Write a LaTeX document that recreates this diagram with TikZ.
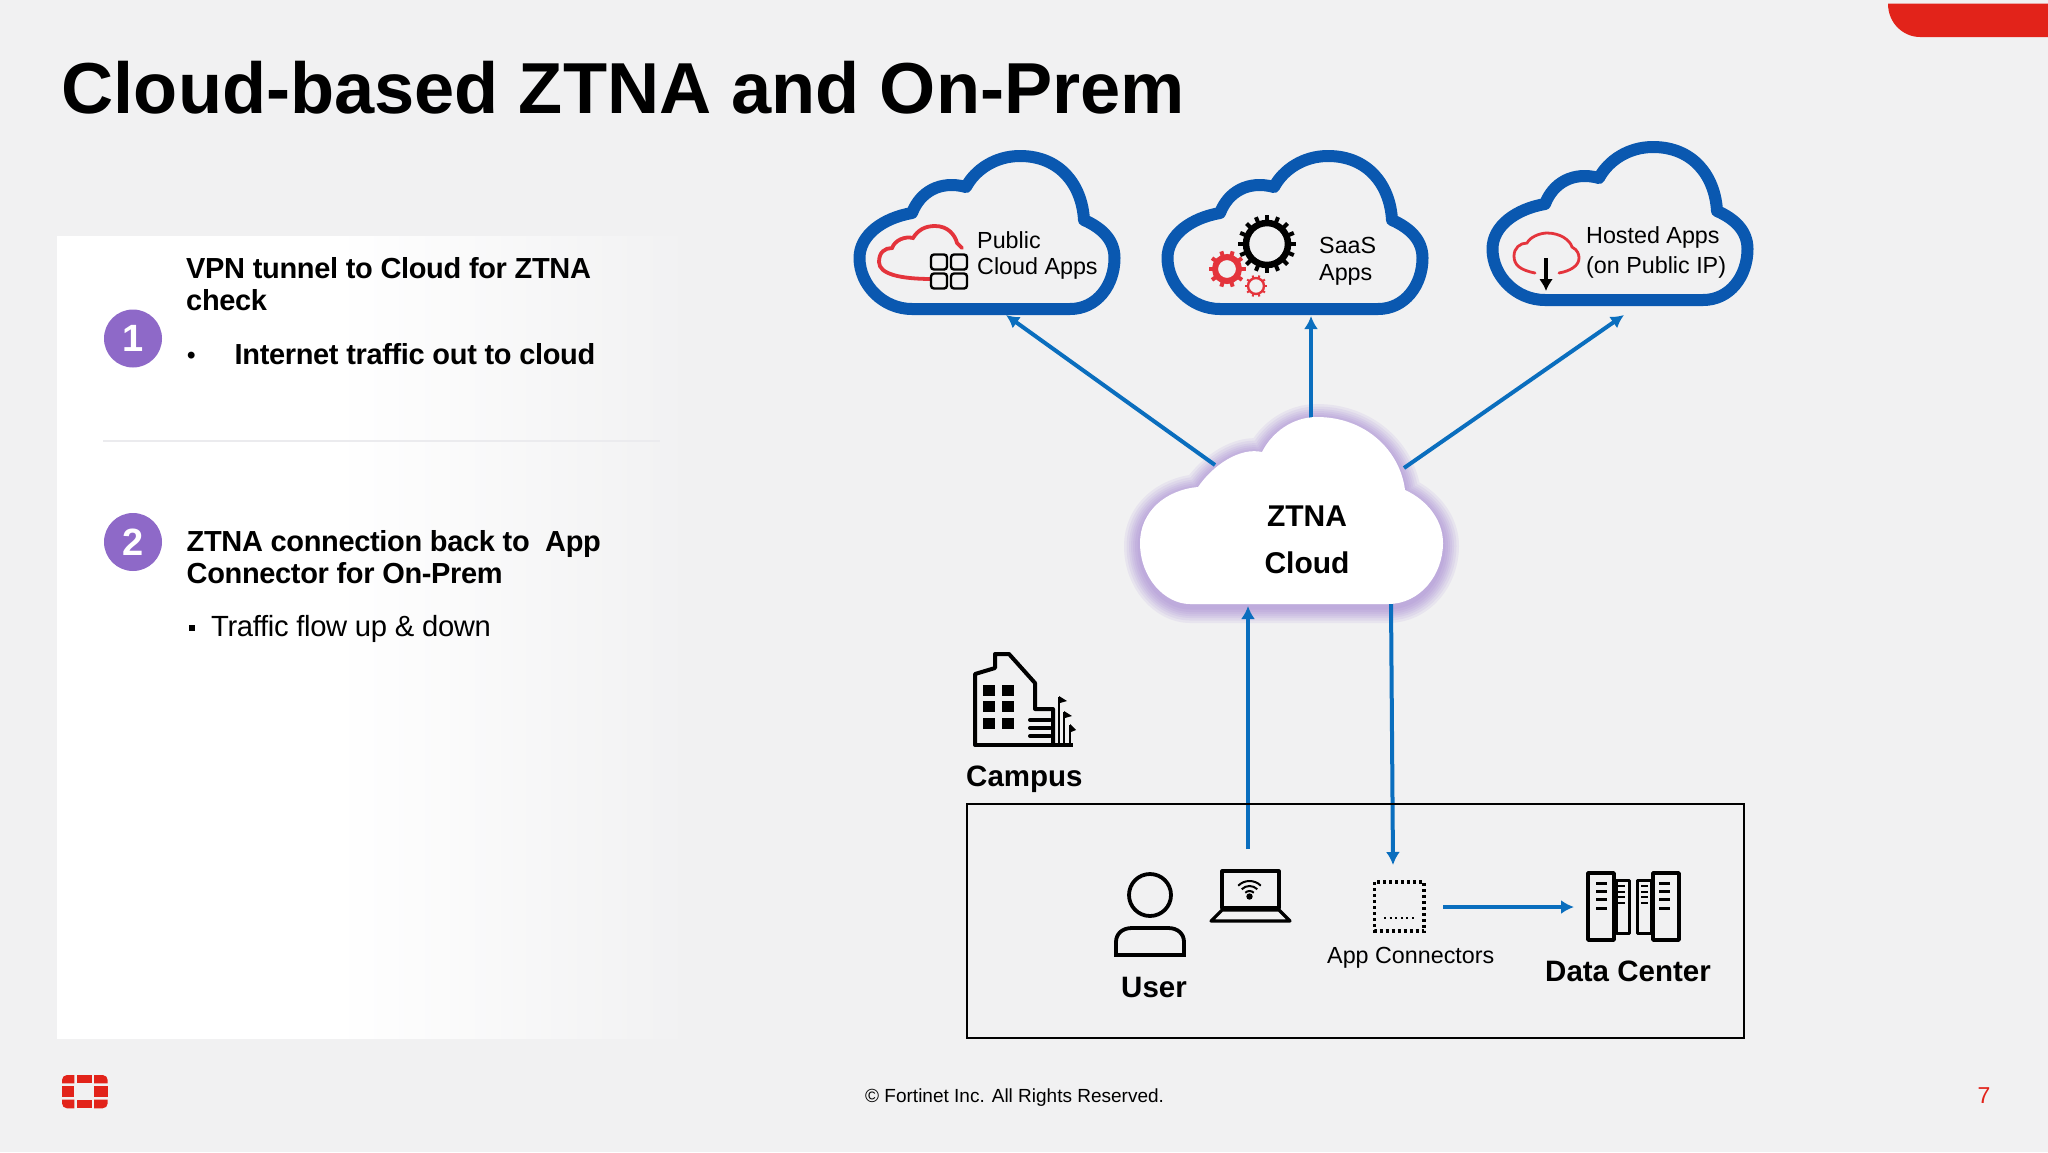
\documentclass[tikz,border=0pt]{standalone}
\usepackage{fontspec}
\setmainfont{Liberation Sans}
\newfontfamily\tightsans[LetterSpace=-1.2]{Liberation Sans}
\usetikzlibrary{arrows.meta}
\definecolor{pagebg}{RGB}{241,241,242}
\definecolor{fortired}{RGB}{226,35,26}
\definecolor{iconred}{RGB}{228,52,60}
\definecolor{rimblue}{RGB}{10,88,176}
\definecolor{flowblue}{RGB}{10,110,190}
\definecolor{badge}{RGB}{142,105,200}
\definecolor{halo}{RGB}{150,115,205}
\definecolor{rulegrey}{RGB}{235,235,238}
\pgfdeclarehorizontalshading{panelfade}{100bp}{color(0bp)=(white); color(25bp)=(white); color(47bp)=(white); color(75bp)=(pagebg); color(100bp)=(pagebg)}
\newcommand\fs[1]{\fontsize{#1}{#1}\selectfont}
\newcommand\ztnaoutline{(1190,604) -- (1388,604) .. controls (1420,604) and (1443,575) .. (1443,543) .. controls (1443,520) and (1427,500) .. (1405,490) .. controls (1400,450) and (1365,417) .. (1317,417) .. controls (1293,417) and (1272,432) .. (1262,452) .. controls (1240,447) and (1213,465) .. (1198,487) .. controls (1165,490) and (1140,512) .. (1140,543) .. controls (1140,578) and (1165,604) .. (1190,604) -- cycle}
\newcommand\appcloud[1]{\draw[cloudrim,shift={#1}] (912,309) -- (1070,309) .. controls (1097,309) and (1114.5,285) .. (1114.5,258) .. controls (1114.5,240) and (1102,228) .. (1084,220) .. controls (1082,185) and (1060,156) .. (1020,156) .. controls (995,156) and (975,170) .. (966,187) .. controls (940,180) and (920,192) .. (912,213) .. controls (883,218) and (859.5,235) .. (859.5,258) .. controls (859.5,285) and (883,309) .. (912,309) -- cycle;}
% centre, ring radius, ring width, tooth outer radius, teeth, colour, tooth width
\newcommand\gearicon[7]{%
  \draw[#6,line width=#3] #1 circle[radius=#2];
  \foreach \a in {1,...,#5}{\draw[#6,line width=#7] #1 ++({360/#5*\a}:#2) -- ++({360/#5*\a}:{#4-#2});}}
\tikzset{
  cloudrim/.style={draw=rimblue,line width=12pt,line join=round},
  flow/.style={draw=flowblue,line width=4pt,-{Latex[length=13pt,width=14pt]}},
  txt/.style={anchor=base west,inner sep=0pt,text=black},
  body/.style={txt,font=\tightsans\fontsize{29}{32}\selectfont\bfseries,align=left},
  bodyreg/.style={txt,font=\tightsans\fs{29.2}},
  mid/.style={txt,font=\fs{23.3}},
  strong/.style={txt,font=\fs{29.5}\bfseries},
  icon/.style={draw=black,line width=4pt,line join=round},
  badgedot/.style={circle,fill=badge,minimum size=58pt,inner sep=0pt,text=white,font=\fs{38}\bfseries},
  winpane/.style={fill=black},
  tile/.style={draw=black,line width=2.4pt,rounded corners=3pt,fill=pagebg},
  redline/.style={draw=iconred,line width=3.8pt,line cap=round},
  logocell/.style={fill=fortired},
}
\begin{document}
\begin{tikzpicture}[x=1pt,y=-1pt]
\useasboundingbox (0,0) rectangle (2048,1152);
\fill[pagebg] (0,0) rectangle (2048,1152);
% panel
\shade[shading=panelfade] (57,236) rectangle (690,1038);
\draw[draw=rulegrey,line width=2pt] (103,441) -- (660,441);
% title and tab
\node[txt,font=\fs{72.2}\bfseries] (title) at (61.5,113) {Cloud-based ZTNA and On-Prem};
\fill[fortired] (2048,3.5) -- (1888,3.5) .. controls (1888,24) and (1904,37) .. (1920,37) -- (2048,37) -- cycle;
% left text
\node[badgedot] (b1) at (133,338.5) {1};
\node[badgedot] (b2) at (133,542) {2};
\node[body,anchor=north west] (t1) at (186,257) {VPN tunnel to Cloud for ZTNA\\check};
\node[txt,font=\fs{24}\bfseries] (bul1) at (187,363) {•};
\node[body] (t1b) at (234.5,364) {Internet traffic out to cloud};
\node[body,anchor=north west] (t2) at (186.5,530) {ZTNA connection back to\ \ App\\Connector for On-Prem};
\node[fill=black,minimum size=6pt,inner sep=0pt] (bul2) at (192,628) {};
\node[bodyreg] (t2b) at (211,636) {Traffic flow up \& down};
% ZTNA halo
\begin{scope}[shift={(0,3)}]
\foreach \w in {32,27,22,18,14,10,5}{\draw[halo,opacity=0.10,line width=\w pt,line join=round] \ztnaoutline;}
\end{scope}
% connector ends
\coordinate (zl) at (1215,465);
\coordinate (zt) at (1311,420);
\coordinate (zr) at (1404,468);
\coordinate (zbl) at (1248,606);
\coordinate (zbr) at (1391,602);
\coordinate (pubin) at (1006,315);
\coordinate (saasin) at (1311,316);
\coordinate (hostin) at (1624,315);
\coordinate (laptopout) at (1248,849);
\coordinate (connin) at (1393,865);
\coordinate (connout) at (1443,907);
\coordinate (dcin) at (1574,907);
% connectors
\draw[flow] (zl) -- (pubin);
\draw[flow] (zt) -- (saasin);
\draw[flow] (zr) -- (hostin);
\draw[flow] (laptopout) -- (zbl);
\draw[flow] (zbr) -- (connin);
\draw[flow] (connout) -- (dcin);
% clouds
\appcloud{(0,0)}
\appcloud{(308,0)}
\appcloud{(633,-9)}
\fill[white] \ztnaoutline;
\node[txt,font=\fs{30}\bfseries,anchor=base] (z1) at (1307,526) {ZTNA};
\node[txt,font=\fs{30}\bfseries,anchor=base] (z2) at (1307,573) {Cloud};
% public cloud icon
\draw[redline] (932,279) .. controls (900,279) and (879,274) .. (879,262) .. controls (879,252) and (885,248) .. (892,248) .. controls (895,240) and (905,236) .. (913,238) .. controls (918,230) and (925,226) .. (935,226) .. controls (948,226) and (955,235) .. (957,243) -- (962,248);
\node[tile,minimum width=16pt,minimum height=15pt,inner sep=0pt] (ta) at (939,262) {};
\node[tile,minimum width=16pt,minimum height=15pt,inner sep=0pt] (tb) at (959,262) {};
\node[tile,minimum width=16pt,minimum height=15pt,inner sep=0pt] (tc) at (939,281) {};
\node[tile,minimum width=16pt,minimum height=15pt,inner sep=0pt] (td) at (959,281) {};
\node[mid] (p1) at (977,248) {Public};
\node[mid] (p2) at (977,274) {Cloud Apps};
% saas icon
\gearicon{(1267,244)}{21}{6.5pt}{29}{16}{black}{4pt}
\gearicon{(1227,269)}{12}{6pt}{18.5}{10}{iconred}{4pt}
\gearicon{(1256,286)}{8}{2.4pt}{11}{10}{iconred}{2pt}
\node[mid] (s1) at (1319,253) {SaaS};
\node[mid] (s2) at (1319,280) {Apps};
% hosted icon
\draw[redline,line width=2.8pt] (1535,273) .. controls (1520,270) and (1514,265) .. (1514,256) .. controls (1514,248) and (1520,243) .. (1527,243) .. controls (1530,237) and (1540,233) .. (1547,233) .. controls (1560,233) and (1570,240) .. (1572,247) .. controls (1578,250) and (1579,255) .. (1579,258) .. controls (1579,266) and (1570,271) .. (1559,273);
\draw[black,line width=3.4pt,-{Latex[length=12pt,width=14pt]}] (1546,258) -- (1546,291);
\node[mid] (h1) at (1586,243) {Hosted Apps};
\node[mid] (h2) at (1586,273) {(on Public IP)};
% campus
\draw[icon,line cap=round] (975,745) -- (975,674) -- (995,668) -- (995,654) -- (1009,654) -- (1035,683) -- (1035,709) -- (1053,709) -- (1053,745);
\draw[icon] (975,745) -- (1073,745);
\foreach \cx in {983,1002}{\foreach \cy in {685,701,718}{\fill[winpane] (\cx,\cy) rectangle +(11.5,10.5);}}
\foreach \cy in {720,728,736}{\draw[icon,line cap=round] (1030,\cy) -- (1050,\cy);}
\draw[black,line width=1.5pt] (1059,697) -- (1059,743) (1064,712) -- (1064,743) (1070,725) -- (1070,743);
\fill[black] (1059,696) -- (1067,701) -- (1060,703) -- cycle (1064,711) -- (1072,716) -- (1065,718) -- cycle (1070,724) -- (1076,730) -- (1071,732) -- cycle;
\node[strong] (campus) at (966,786) {Campus};
% site box
\draw[black,line width=2pt] (967,803.5) rectangle (1744,1037.5);
% user
\draw[icon,line width=3.8pt] (1150,895) circle[radius=21];
\draw[icon,line width=3.8pt,line join=miter] (1116,955) -- (1116,942) .. controls (1116,934) and (1122,928) .. (1132,928) -- (1168,928) .. controls (1178,928) and (1184,934) .. (1184,942) -- (1184,955) -- cycle;
\node[strong] (user) at (1121,997) {User};
% laptop
\draw[icon,line width=3.2pt] (1222,908) -- (1222,871) -- (1279,871) -- (1279,908) -- cycle;
\draw[icon,line width=3.2pt] (1222,910) -- (1211,921) -- (1290,921) -- (1279,910) -- cycle;
\fill[black] (1249.5,896.5) circle[radius=3.2];
\foreach \r in {6,11,16}{\draw[black,line width=2pt] (1249.5,897) ++(-45:\r) arc[start angle=-45,end angle=-135,radius=\r];}
% app connector
\draw[black,line width=3.2pt,dash pattern=on 3pt off 3pt] (1374.5,882) rectangle (1424,931);
\draw[black,line width=1.8pt,dash pattern=on 2pt off 3.6pt] (1384,918) -- (1417,918);
\node[mid] (conn) at (1327,963) {App Connectors};
% servers
\draw[icon,line width=3.6pt] (1588,873) rectangle (1614,940);
\draw[icon,line width=3pt] (1616,880) rectangle (1629,933);
\draw[icon,line width=3pt] (1637,880) rectangle (1651,933);
\draw[icon,line width=3.6pt] (1653,873) rectangle (1679,940);
\foreach \yy in {883,891,899,908}{\draw[black,line width=3pt] (1596,\yy) -- (1607,\yy) (1659,\yy) -- (1670,\yy);}
\foreach \yy in {886,892,897,903}{\draw[black,line width=2pt] (1618,\yy) -- (1625,\yy) (1641,\yy) -- (1648,\yy);}
\node[strong] (dc) at (1545,981.5) {Data Center};
% logo
\fill[logocell] (74.3,1083.3) -- (62,1083.3) [rounded corners=5pt] -- (62,1075) [sharp corners] -- (74.3,1075) -- cycle;
\fill[logocell] (77,1075) rectangle (91.5,1083.3);
\fill[logocell] (94,1083.3) -- (107.7,1083.3) [rounded corners=5pt] -- (107.7,1075) [sharp corners] -- (94,1075) -- cycle;
\fill[logocell] (62,1086) rectangle (74.3,1097);
\fill[logocell] (94,1086) rectangle (107.7,1097);
\fill[logocell] (74.3,1099.5) -- (62,1099.5) [rounded corners=5pt] -- (62,1108.3) [sharp corners] -- (74.3,1108.3) -- cycle;
\fill[logocell] (77,1099.5) rectangle (91.5,1108.3);
\fill[logocell] (94,1099.5) -- (107.7,1099.5) [rounded corners=5pt] -- (107.7,1108.3) [sharp corners] -- (94,1108.3) -- cycle;
% footer
\node[txt,font=\fs{19}] (foot) at (865,1102.5) {© Fortinet Inc. All Rights Reserved.};
\node[txt,font=\fs{23},text=fortired,anchor=base] (pageno) at (1984,1103.5) {7};
\end{tikzpicture}
\end{document}
